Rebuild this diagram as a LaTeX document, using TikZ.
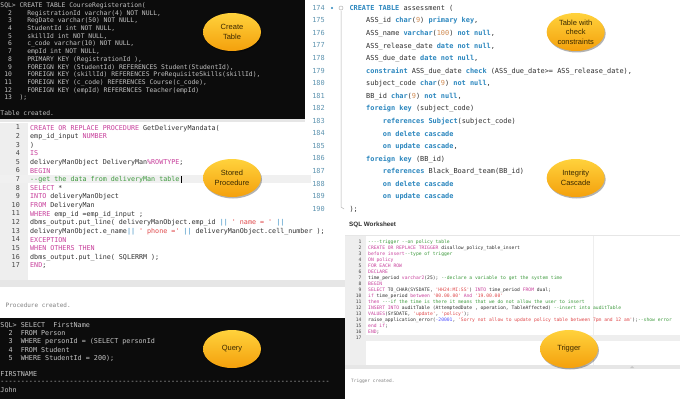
\documentclass[tikz,border=0pt]{standalone}
\usepackage{fontspec}
\setmainfont{Liberation Sans}
\newfontfamily\cmono{DejaVu Sans Mono}
\usetikzlibrary{shapes.geometric,shadows}
\definecolor{consolebg}{HTML}{0C0C0C}
\definecolor{consoletx}{HTML}{C4C4C4}
\definecolor{gutter}{HTML}{EEEEEE}
\definecolor{barc}{HTML}{E6E6E6}
\definecolor{numc}{HTML}{444444}
\definecolor{kwpink}{HTML}{C8409C}
\definecolor{cmgreen}{HTML}{3D9A3D}
\definecolor{strred}{HTML}{E0484A}
\definecolor{codetx}{HTML}{303030}
\definecolor{kwblue}{HTML}{2A86BE}
\definecolor{numbrown}{HTML}{D08A50}
\definecolor{rnum}{HTML}{5E94B0}
\definecolor{ovaltop}{HTML}{FFD23C}
\definecolor{ovalbot}{HTML}{F4A00C}
\definecolor{ovaltx}{HTML}{3A2800}
\newcommand\kw[1]{\textcolor{kwpink}{#1}}
\newcommand\cm[1]{\textcolor{cmgreen}{#1}}
\newcommand\st[1]{\textcolor{strred}{#1}}
\newcommand\bk[1]{\textcolor{kwblue}{\bfseries #1}}
\newcommand\nm[1]{\textcolor{numbrown}{#1}}
\newcommand\ind[1]{\hspace*{#1pt}}
\tikzset{
  x=1pt,y=-1pt,
  oval/.style={ellipse,minimum width=58pt,minimum height=38pt,inner sep=0pt,
    top color=ovaltop,bottom color=ovalbot,draw=none,
    drop shadow={shadow xshift=1pt,shadow yshift=-1.5pt,fill=black,opacity=.3},
    text=ovaltx,align=center,font=\fontsize{7.5}{9.4}\selectfont},
  console/.style={inner sep=0pt,anchor=north west,align=left,text=consoletx},
  console a/.style={console,font=\cmono\fontsize{6.35}{7.72}\selectfont},
  console c/.style={console,font=\cmono\fontsize{6.75}{8.25}\selectfont},
  proc/.style={inner sep=0pt,anchor=north west,align=left,text=codetx,font=\cmono\fontsize{6.7}{8.62}\selectfont},
  procnum/.style={inner sep=0pt,anchor=north east,align=right,text=numc,font=\cmono\fontsize{6.7}{8.62}\selectfont},
  assess/.style={inner sep=0pt,anchor=north west,align=left,text=codetx,font=\cmono\fontsize{6.9}{12.56}\selectfont},
  assessnum/.style={inner sep=0pt,anchor=north east,align=right,text=rnum,font=\cmono\fontsize{6.9}{12.56}\selectfont},
  trig/.style={inner sep=0pt,anchor=north west,align=left,text=codetx,font=\cmono\fontsize{4.67}{6}\selectfont},
  trignum/.style={inner sep=0pt,anchor=north east,align=right,text=numc,font=\cmono\fontsize{4.67}{6}\selectfont},
  note/.style={inner sep=0pt,anchor=west,text=gray},
}
\begin{document}
\begin{tikzpicture}
\useasboundingbox (0,0) rectangle (680,404);
\fill[white] (0,0) rectangle (680,404);
% create table console
\fill[consolebg] (0,0) rectangle (305,119);
\fill[barc] (0,119) rectangle (305,122);
\node[console a] (ctsql) at (0.3,2.3) {SQL> CREATE TABLE CourseRegisteration(\\
\ \ 2\ind{15.3}RegistrationId varchar(4) NOT NULL,\\
\ \ 3\ind{15.3}RegDate varchar(50) NOT NULL,\\
\ \ 4\ind{15.3}StudentId int NOT NULL,\\
\ \ 5\ind{15.3}skillId int NOT NULL,\\
\ \ 6\ind{15.3}c\_code varchar(10) NOT NULL,\\
\ \ 7\ind{15.3}empId int NOT NULL,\\
\ \ 8\ind{15.3}PRIMARY KEY (RegistrationId ),\\
\ \ 9\ind{15.3}FOREIGN KEY (StudentId) REFERENCES Student(StudentId),\\
\ 10\ind{15.3}FOREIGN KEY (skillId) REFERENCES PreRequisiteSkills(skillId),\\
\ 11\ind{15.3}FOREIGN KEY (c\_code) REFERENCES Course(c\_code),\\
\ 12\ind{15.3}FOREIGN KEY (empId) REFERENCES Teacher(empId)\\
\ 13\ \ );};
\node[console a,anchor=west] (ctdone) at (0.3,112.7) {Table created.};
% stored procedure editor
\fill[gutter] (0,123) rectangle (28,280);
\fill[gutter!85!white] (0,175) rectangle (311,183);
\fill[barc] (0,280) rectangle (345,287);
\node[procnum] (pnums) at (20,124.7) {1\\2\\3\\4\\5\\6\\7\\8\\9\\10\\11\\12\\13\\14\\15\\16\\17};
\node[proc] (pcode) at (30,124.7) {\kw{CREATE OR REPLACE PROCEDURE} GetDeliveryMandata(\\
emp\_id\_input \kw{NUMBER}\\
)\\
\kw{IS}\\
deliveryManObject DeliveryMan\kw{\%ROWTYPE};\\
\kw{BEGIN}\\
\cm{--get the data from deliveryMan table}\\
\kw{SELECT} *\\
\kw{INTO} deliveryManObject\\
\kw{FROM} DeliveryMan\\
\kw{WHERE} emp\_id =emp\_id\_input ;\\
dbms\_output.put\_line( deliveryManObject.emp\_id \textcolor{kwblue}{||} \st{' name = '} \textcolor{kwblue}{||}\\
deliveryManObject.e\_name\textcolor{kwblue}{||} \st{' phone ='} \textcolor{kwblue}{||} deliveryManObject.cell\_number );\\
\kw{EXCEPTION}\\
\kw{WHEN OTHERS THEN}\\
dbms\_output.put\_line( SQLERRM );\\
\kw{END};};
\fill[black] (181,175.5) rectangle (181.7,182.5);
\node[note,font=\cmono\fontsize{6}{7}\selectfont] (pdone) at (5.5,305.7) {Procedure created.};
% query console
\fill[consolebg] (0,318) rectangle (345,399);
\node[console c] (qsql) at (0.3,322) {SQL> SELECT\ \ FirstName\\
\ \ 2\ \ FROM Person\\
\ \ 3\ \ WHERE personId = (SELECT personId\\
\ \ 4\ \ FROM Student\\
\ \ 5\ \ WHERE StudentId = 200);};
\node[console c,anchor=west] (qfirst) at (0.3,374) {FIRSTNAME};
\node[console c,anchor=west] (qdash) at (0.3,382) {---------------------------------------------------------------------------------};
\node[console c,anchor=west] (qjohn) at (0.3,390) {John};
% assessment
\node[assessnum] (anums) at (325,5) {174\\175\\176\\177\\178\\179\\180\\181\\182\\183\\184\\185\\186\\187\\188\\189\\190};
\fill[kwblue] (332,8) circle (1.2);
\draw[gray!60,line width=.5pt] (341,8) circle (2);
\draw[gray!60,line width=.5pt] (341,11) -- (341,207) -- (344,209);
\node[assess] (acode) at (349.3,5) {\bk{CREATE TABLE} assessment (\\
\ind{16.7}ASS\_id \bk{char}(\nm{9}) \bk{primary key},\\
\ind{16.7}ASS\_name \bk{varchar}(\nm{100}) \bk{not null},\\
\ind{16.7}ASS\_release\_date \bk{date not null},\\
\ind{16.7}ASS\_due\_date \bk{date not null},\\
\ind{16.7}\bk{constraint} ASS\_due\_date \bk{check} (ASS\_due\_date>= ASS\_release\_date),\\
\ind{16.7}subject\_code \bk{char}(\nm{9}) \bk{not null},\\
\ind{16.7}BB\_id \bk{char}(\nm{9}) \bk{not null},\\
\ind{16.7}\bk{foreign key} (subject\_code)\\
\ind{33.4}\bk{references Subject}(subject\_code)\\
\ind{33.4}\bk{on delete cascade}\\
\ind{33.4}\bk{on update cascade},\\
\ind{16.7}\bk{foreign key} (BB\_id)\\
\ind{33.4}\bk{references} Black\_Board\_team(BB\_id)\\
\ind{33.4}\bk{on delete cascade}\\
\ind{33.4}\bk{on update cascade}\\
);};
% trigger worksheet
\node[inner sep=0pt,anchor=west,text=codetx,font=\bfseries\fontsize{6.3}{7}\selectfont] (wtitle) at (349,225) {SQL Worksheet};
\draw[barc,line width=.6pt] (345,235) -- (680,235);
\fill[gutter] (345,236) rectangle (366,365);
\fill[gutter] (345,335) rectangle (680,340.5);
\draw[gutter,line width=.5pt] (593,236) -- (593,365);
\fill[barc] (345,365) rectangle (680,369);
\fill[gray!45] (632,366) -- (634,368) -- (630,368) -- cycle;
\node[trignum] (tnums) at (361.7,239.8) {1\\2\\3\\4\\5\\6\\7\\8\\9\\10\\11\\12\\13\\14\\15\\16\\17};
\node[trig] (tcode) at (368,239.8) {\cm{----trigger --on policy table}\\
\kw{CREATE OR REPLACE TRIGGER} disallow\_policy\_table\_insert\\
\kw{before insert}\cm{--type of trigger}\\
\kw{ON policy}\\
\kw{FOR EACH ROW}\\
\kw{DECLARE}\\
time\_period \kw{varchar2}(25); \cm{--declare a variable to get the system time}\\
\kw{BEGIN}\\
\kw{SELECT} TO\_CHAR(SYSDATE, \st{'HH24:MI:SS'}) \kw{INTO} time\_period \kw{FROM} dual;\\
\kw{if} time\_period \kw{between} \st{'00.00.00'} \kw{And} \st{'19.00.00'}\\
\kw{then} \cm{---if the time is there it means that we do not allow the user to insert}\\
\kw{INSERT INTO} auditTable (AttemptedDate , operation, TableAffected) \cm{--insert into auditTable}\\
\kw{VALUES}(SYSDATE, \st{'update'}, \st{'policy'});\\
raise\_application\_error(\textcolor{blue!70!white}{-20001}, \st{'Sorry not allow to update policy table between 7pm and 12 am'});\cm{--show error}\\
\kw{end if};\\
\kw{END};\\
\ };
\node[note,font=\cmono\fontsize{4.5}{5}\selectfont] (tdone) at (351,381) {Trigger created.};
% ovals
\node[oval] (o1) at (232,32) {Create\\Table};
\node[oval] (o2) at (232,178) {Stored\\Procedure};
\node[oval] (o3) at (232,349) {Query};
\node[oval] (o4) at (575.7,32) {Table with\\check\\constraints};
\node[oval] (o5) at (575.7,178) {Integrity\\Cascade};
\node[oval] (o6) at (569,349) {Trigger};
\end{tikzpicture}
\end{document}
